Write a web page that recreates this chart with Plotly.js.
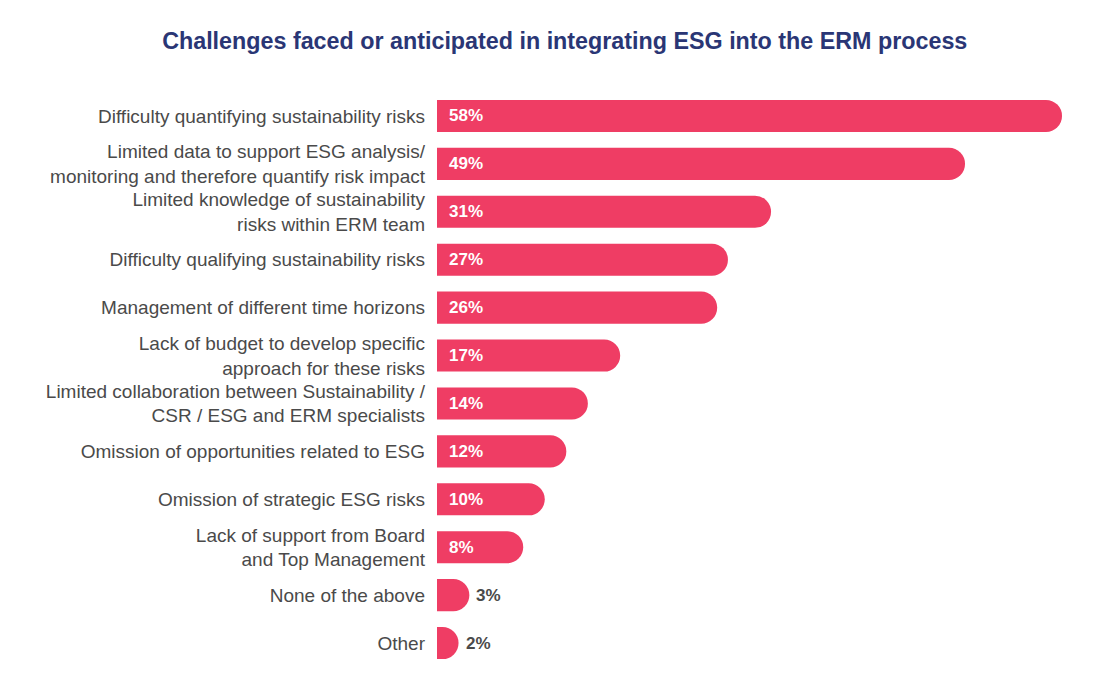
<!DOCTYPE html>
<html>
<head>
<meta charset="utf-8">
<script src="https://cdn.plot.ly/plotly-3.0.1.min.js"></script>
<style>
  html, body { margin: 0; padding: 0; background: #ffffff; }
  #chart { width: 1103px; height: 673px; }
</style>
</head>
<body>
<div id="chart"></div>
<script>
// Survey responses: challenges in integrating ESG into ERM (share of respondents, %)
const categories = [
  "Difficulty quantifying sustainability risks",
  "Limited data to support ESG analysis/<br>monitoring and therefore quantify risk impact",
  "Limited knowledge of sustainability<br>risks within ERM team",
  "Difficulty qualifying sustainability risks",
  "Management of different time horizons",
  "Lack of budget to develop specific<br>approach for these risks",
  "Limited collaboration between Sustainability /<br>CSR / ESG and ERM specialists",
  "Omission of opportunities related to ESG",
  "Omission of strategic ESG risks",
  "Lack of support from Board<br>and Top Management",
  "None of the above",
  "Other"
];
const values = [58, 49, 31, 27, 26, 17, 14, 12, 10, 8, 3, 2];
const valueLabels = values.map(v => v + "%");

const barColor = "#ef3d64";
const labelFont = "Liberation Sans, Arial, Helvetica, sans-serif";

// Labels sit inside the bar when it is long enough, otherwise just past its end
const insideMin = 5;
const annotations = values.map((v, i) => {
  const inside = v >= insideMin;
  return {
    x: inside ? 0 : v,
    y: categories[i],
    xref: "x", yref: "y",
    text: valueLabels[i],
    showarrow: false,
    xanchor: "left",
    xshift: inside ? 10 : 5,
    font: { family: labelFont, size: 17, color: inside ? "#ffffff" : "#4a4a4a", weight: "bold" }
  };
});

const trace = {
  type: "bar",
  orientation: "h",
  x: values,
  y: categories,
  marker: { color: barColor, cornerradius: "50%", line: { width: 0 } },
  hoverinfo: "x+y"
};

const layout = {
  width: 1103,
  height: 673,
  paper_bgcolor: "#ffffff",
  plot_bgcolor: "#ffffff",
  margin: { l: 437, r: 41, t: 92, b: 6 },
  bargap: 0.33,
  title: {
    text: "<b>Challenges faced or anticipated in integrating ESG into the ERM process</b>",
    font: { family: labelFont, size: 23.3, color: "#2a3675" },
    x: 0.512, xanchor: "center",
    y: 0.94, yanchor: "middle"
  },
  xaxis: {
    range: [0, 58],
    visible: false,
    showgrid: false,
    zeroline: false,
    fixedrange: true
  },
  yaxis: {
    autorange: "reversed",
    showgrid: false,
    zeroline: false,
    showline: false,
    ticks: "",
    ticklabelstandoff: 11,
    tickfont: { family: labelFont, size: 19, color: "#4a4a4a" },
    fixedrange: true
  },
  annotations: annotations,
  showlegend: false
};

Plotly.newPlot("chart", [trace], layout, { displayModeBar: false, staticPlot: true });
</script>
</body>
</html>
